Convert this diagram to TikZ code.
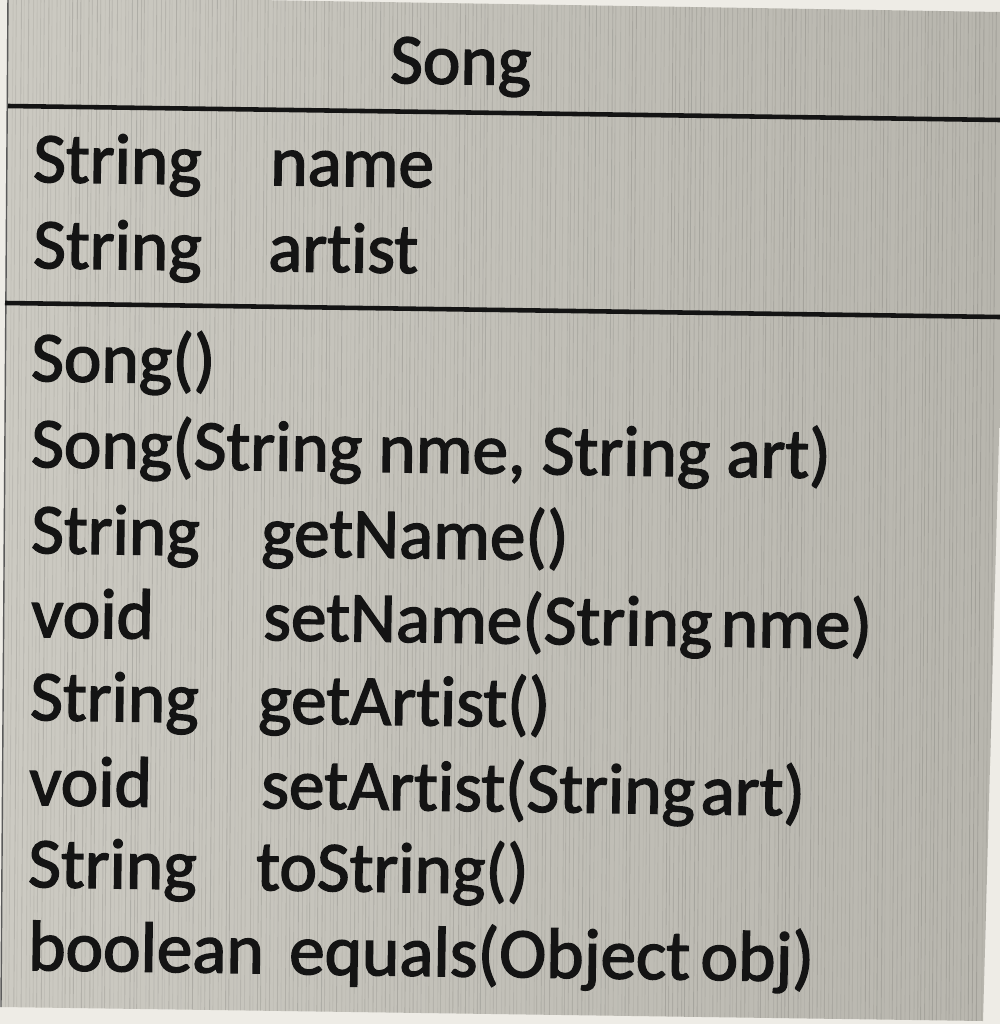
\documentclass[tikz,border=0pt]{standalone}
\usepackage{fontspec}
\setmainfont{Carlito}[Ligatures={NoCommon,NoContextual}]
\newfontfamily\umlfont{Carlito}[Ligatures={NoCommon,NoContextual}, FakeBold=2.0]
\definecolor{paper}{RGB}{238,236,230}
\definecolor{boxL}{RGB}{204,202,194}
\definecolor{boxR}{RGB}{184,182,174}
\definecolor{ink}{RGB}{20,20,20}
\begin{document}
\begin{tikzpicture}[x=0.02cm,y=-0.02cm,
  txt/.style={anchor=base west, inner sep=0pt, outer sep=0pt, rotate=-0.8,
              text=ink, font=\umlfont\fontsize{40.5}{48}\selectfont},
  sepline/.style={draw=ink, line width=2.6pt},
  boxedge/.style={draw=ink!70, line width=0.8pt}]
\fill[paper] (0,0) rectangle (1000,1024);
\useasboundingbox (0,0) rectangle (1000,1024);
% class box body
\path[left color=boxL, right color=boxR]
  (8,-4) -- (1000,12) -- (1000,400) -- (983,1021) -- (1,1007) -- cycle;
\begin{scope}
  \clip (8,-4) -- (1000,12) -- (1000,400) -- (983,1021) -- (1,1007) -- cycle;
  \foreach \i in {0,...,249} {
    \pgfmathsetmacro\xx{\i*4+2*rnd}
    \pgfmathsetmacro\op{0.03+0.10*rnd}
    \draw[black, opacity=\op, line width=0.5pt] (\xx,-10) -- (\xx-8,1030);
  }
\end{scope}
\draw[boxedge] (8,-4) -- (1,1007);
% compartment separators
\coordinate (s1l) at (8,106);
\coordinate (s1r) at (1000,120);
\coordinate (s2l) at (5,303);
\coordinate (s2r) at (1000,317);
\draw[sepline] (s1l) -- (s1r);
\draw[sepline] (s2l) -- (s2r);
% title
\node[txt] (title) at (390,83) {Song};
% attributes
\node[txt] (a1t) at (33,182) {String};
\node[txt] (a1n) at (270,185) {name};
\node[txt] (a2t) at (33,268) {String};
\node[txt] (a2n) at (268,271) {artist};
% operations
\node[txt] (m1) at (31,381) {Song()};
\node[txt] (m2) at (31,467) {Song(String nme, String art)};
\node[txt] (m3t) at (31,553) {String};
\node[txt] (m3n) at (261,556) {getName()};
\node[txt] (m4t) at (31,637) {void};
\node[txt] (m4n) at (263,640) {setName(String\hspace{0.12em}nme)};
\node[txt] (m5t) at (30,720) {String};
\node[txt] (m5n) at (258,723) {getArtist()};
\node[txt] (m6t) at (29,805) {void};
\node[txt] (m6n) at (261,808) {setArtist(String\hspace{0.08em}art)};
\node[txt] (m7t) at (28,887) {String};
\node[txt] (m7n) at (256,890) {toString()};
\node[txt] (m8t) at (28,970) {boolean};
\node[txt] (m8n) at (289,974) {equals(Object\hspace{0.15em}obj)};
\end{tikzpicture}
\end{document}
